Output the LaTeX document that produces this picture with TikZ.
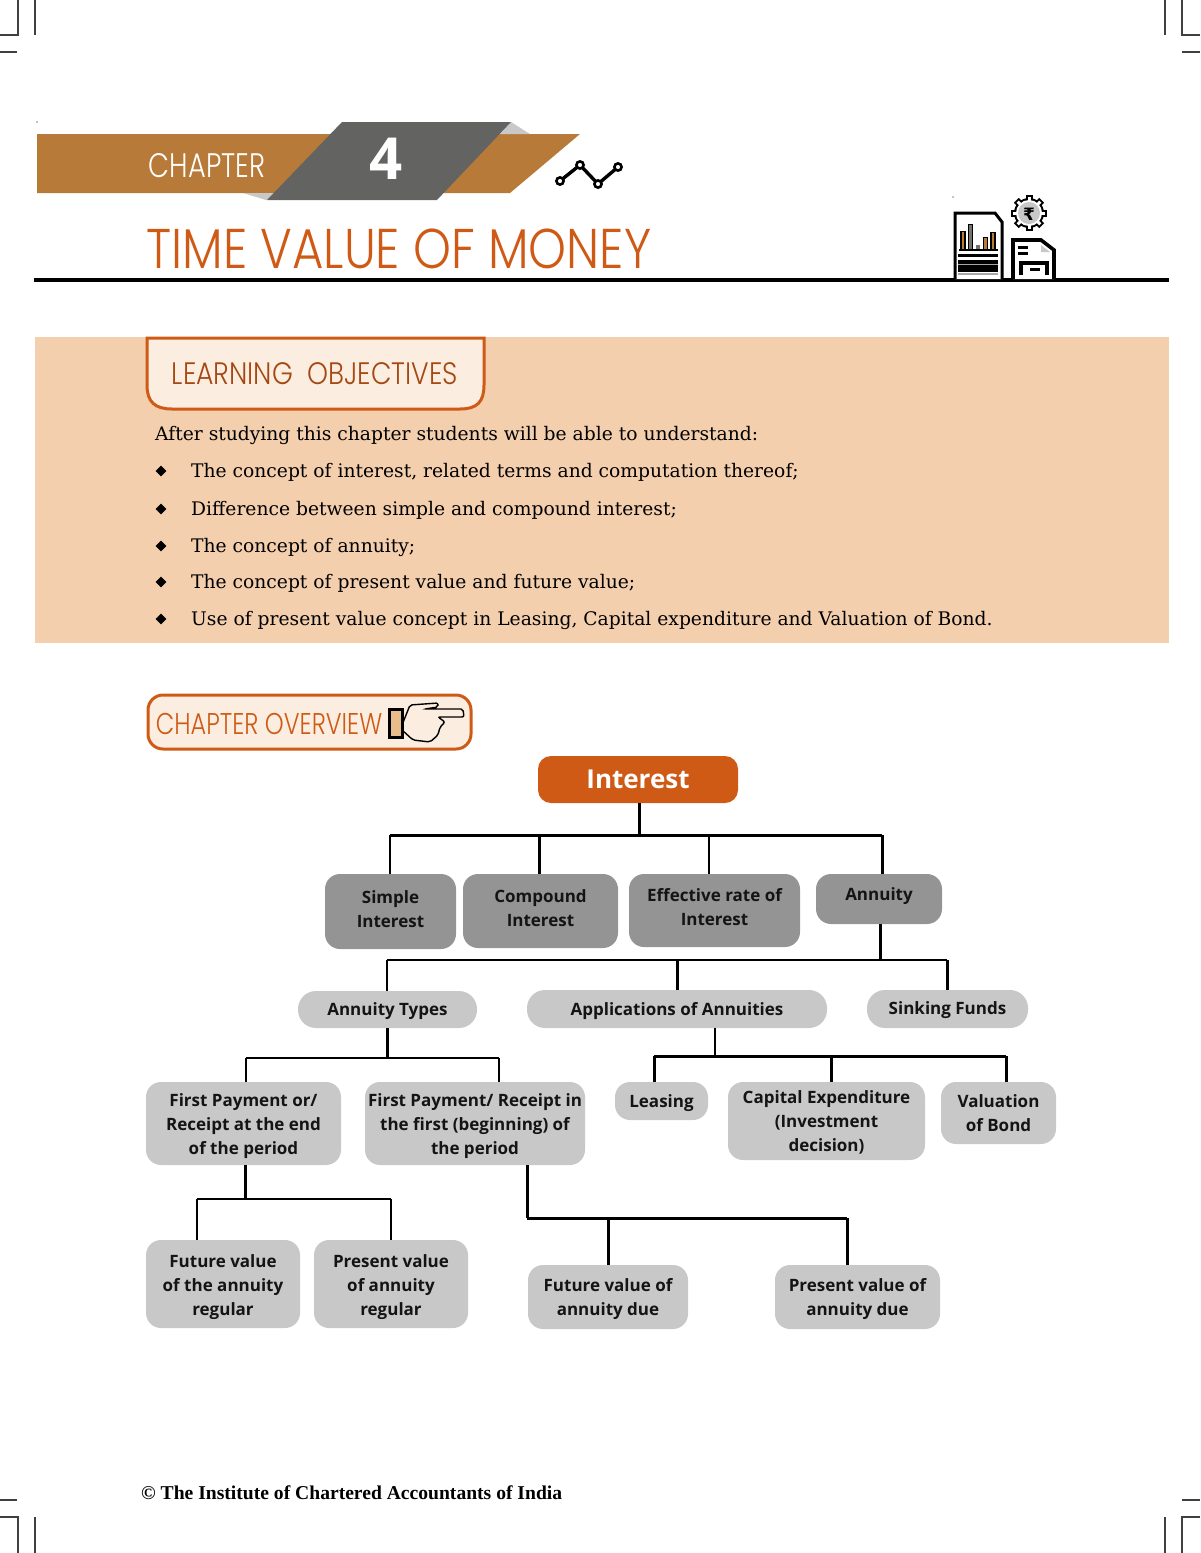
\documentclass[tikz,border=0pt]{standalone}
\usepackage{fontspec}
\usetikzlibrary{shapes.geometric}
\setmainfont{DejaVu Serif}
\newfontfamily\headfont[FakeStretch=0.8]{Poppins Light}
\newfontfamily\titlefont[FakeStretch=0.86]{Poppins Light}
\newfontfamily\boxfont{Open Sans}
\newfontfamily\footfont{Liberation Serif}
\newcommand{\topgap}[1]{\rule{0pt}{#1pt}}
\definecolor{bandbrown}{HTML}{B87A38}
\definecolor{darkgrey}{HTML}{636361}
\definecolor{lightgrey}{HTML}{C8C8C8}
\definecolor{midgrey}{HTML}{949494}
\definecolor{rust}{HTML}{CF5A16}
\definecolor{panel}{HTML}{F3CFAE}
\definecolor{cream}{HTML}{FBEDE0}
\definecolor{cuff}{HTML}{E9BC8C}
\begin{document}
\begin{tikzpicture}[x=1pt,y=-1pt,
    crop/.style = {draw=black!75,line width=1.6pt},
    bus/.style = {draw=black,line width=3pt},
    thinbus/.style = {draw=black,line width=1.8pt},
    topbox/.style = {fill=rust,text=white,rounded corners=13pt,align=center,font=\boxfont\bfseries\fontsize{26}{30}\selectfont},
    midbox/.style = {fill=midgrey,text=black!92,rounded corners=15pt,align=center,font=\boxfont\bfseries\fontsize{17}{24}\selectfont,inner sep=0pt},
    lowbox/.style = {fill=lightgrey,text=black!92,rounded corners=15pt,align=center,font=\boxfont\bfseries\fontsize{17}{24}\selectfont,inner sep=0pt},
    goal/.style = {anchor=base west,inner sep=0pt,font=\fontsize{18.7}{22}\selectfont},
    tick/.style = {diamond,fill=black,inner sep=0pt,minimum size=11pt}]
    \useasboundingbox (0,0) rectangle (1200,1553);

    % crop marks
    \draw[crop] (0,35) -- (18,35) -- (18,0);
    \draw[crop] (35,0) -- (35,35);
    \draw[crop] (0,52) -- (17,52);
    \draw[crop] (1200,35) -- (1182,35) -- (1182,0);
    \draw[crop] (1165,0) -- (1165,35);
    \draw[crop] (1200,52) -- (1182,52);
    \draw[crop] (0,1517) -- (18,1517) -- (18,1553);
    \draw[crop] (35,1517) -- (35,1553);
    \draw[crop] (0,1500) -- (17,1500);
    \draw[crop] (1200,1517) -- (1182,1517) -- (1182,1553);
    \draw[crop] (1165,1517) -- (1165,1553);
    \draw[crop] (1200,1500) -- (1182,1500);
    \fill (37,122) circle (0.7);
    \fill (953,197) circle (0.7);

    % chapter band
    \fill[bandbrown] (37,134) -- (580,134) -- (510,193) -- (37,193) -- cycle;
    \fill[lightgrey] (511,122) -- (530,134) -- (500,134) -- cycle;
    \fill[lightgrey] (243,193) -- (277,193) -- (266,200) -- cycle;
    \fill[darkgrey] (342,122) -- (511,122) -- (437,200) -- (267,200) -- cycle;
    \node[text=white,font=\headfont\fontsize{34}{36}\selectfont,inner sep=0pt] (chapterword) at (207,166) {CHAPTER};
    \node[text=white,font=\boxfont\bfseries\fontsize{58}{64}\selectfont,inner sep=0pt] (chapternum) at (386,159) {4};

    % small graph
    \draw[line width=3.4pt] (560,181) -- (580,165) -- (598,184) -- (618,167);
    \foreach \x/\y in {560/181,580/165,598/184,618/167}
        \draw[line width=2.6pt,fill=white] (\x,\y) circle (3.6);

    \node[text=rust,font=\titlefont\fontsize{56}{60}\selectfont,inner sep=0pt] (title) at (399,249) {TIME VALUE OF MONEY};
    \draw[line width=4pt] (34,280) -- (1169,280);

    % page icon
    \draw[line width=3pt,fill=white] (955,279) -- (955,213) -- (995,213) -- (1002,222) -- (1002,279);
    \foreach \x/\y/\c in {963/231/bandbrown,970.5/224/black!55,985.5/237/bandbrown,993/232/bandbrown}{
        \draw[line width=5.6pt] (\x,\y) -- (\x,250);
        \draw[\c,line width=2.8pt] (\x,\y+1) -- (\x,249);
    }
    \draw[line width=2pt] (959,250) -- (998,250);
    \fill[black!55] (976,245) rectangle (980,249);
    \fill (958,254) rectangle (998,257);
    \fill (958,260) rectangle (998,272);
    \fill[black!35] (958,264) rectangle (998,265.4);
    \fill[black!35] (958,273) rectangle (998,275);

    % floppy icon
    \draw[line width=3.6pt,fill=white] (1013,279) -- (1013,240) -- (1041,240) -- (1054,250) -- (1054,279);
    \fill[lightgrey] (1041,245) -- (1050,252) -- (1041,252) -- cycle;
    \draw[line width=3pt] (1018,247) -- (1028,247);
    \draw[line width=3pt] (1018,253) -- (1028,253);
    \draw[line width=4pt] (1021,275) -- (1021,263) -- (1047,263) -- (1047,275);
    \draw[line width=3pt] (1030,269) -- (1040,269);

    % gear icon
    \foreach \a in {0,45,...,315}
        \draw[line width=7pt] (1029,213) ++(\a:12) -- ++(\a:6);
    \fill (1029,213) circle (15);
    \foreach \a in {0,45,...,315}
        \draw[white,line width=3pt] (1029,213) ++(\a:11) -- ++(\a:5);
    \fill[white] (1029,213) circle (13);
    \fill[lightgrey] (1029,213) circle (11);
    \node[font=\fontspec{DejaVu Sans}\bfseries\fontsize{17}{17}\selectfont,inner sep=0pt] (rupee) at (1029,214) {₹};

    % objectives panel
    \fill[panel] (35,337) rectangle (1169,643);
    \draw[rust,line width=3pt,fill=cream] (147,338) -- (147,385) .. controls (147,402) and (155,409) .. (172,409) -- (460,409) .. controls (477,409) and (484,402) .. (484,385) -- (484,338) -- cycle;
    \node[text=rust!80!black,font=\titlefont\fontsize{31}{34}\selectfont,inner sep=0pt] (objectives) at (315,374) {LEARNING\ \ OBJECTIVES};

    \node[goal] (after) at (155,440) {After studying this chapter students will be able to understand:};
    \foreach \n/\y/\t in {a/477/{The concept of interest, related terms and computation thereof;},
                          b/515/{Difference between simple and compound interest;},
                          c/552/{The concept of annuity;},
                          d/588/{The concept of present value and future value;},
                          e/625/{Use of present value concept in Leasing, Capital expenditure and Valuation of Bond.}}{
        \node[tick] (tick\n) at (161,\y-6) {};
        \node[goal] (goal\n) at (191,\y) {\t};
    }

    % overview tab
    \draw[rust,line width=3pt,fill=cream,rounded corners=15pt] (148,695) rectangle (471,749);
    \node[text=rust,font=\headfont\fontsize{30}{32}\selectfont,inner sep=0pt] (overview) at (269,724) {CHAPTER OVERVIEW};
    \draw[line width=1.4pt,fill=cream,rounded corners=2pt] (402,725) -- (410,705) -- (438,703) -- (438,707) -- (425,709) -- (463,709) -- (464,717) -- (438,717) -- (445,722) -- (440,727) -- (438,735) -- (430,742) -- (413,740) -- (402,730) -- cycle;
    \draw[line width=3pt,fill=cuff] (389,709) rectangle (402,737);

    % the tree
    \node[topbox,minimum width=200,minimum height=47] (interest) at (638,779.5) {Interest};

    \node[midbox,minimum width=131,minimum height=75,text depth=4pt] (simple) at (390.5,911.5) {Simple\\Interest};
    \node[midbox,minimum width=155,minimum height=74,text depth=6pt] (compound) at (540.5,911) {Compound\\Interest};
    \node[midbox,minimum width=171,minimum height=73,text depth=8pt] (effective) at (714.5,910.5) {Effective rate of\\Interest};
    \node[midbox,minimum width=126,minimum height=50,text depth=10pt] (annuity) at (879,899) {Annuity};

    \node[lowbox,minimum width=179,minimum height=37,rounded corners=18pt] (types) at (387.5,1009.5) {\topgap{17}Annuity Types};
    \node[lowbox,minimum width=300,minimum height=38,rounded corners=18pt] (apps) at (677,1009) {\topgap{17}Applications of Annuities};
    \node[lowbox,minimum width=161,minimum height=38,rounded corners=18pt] (sinking) at (947.5,1009) {\topgap{15}Sinking Funds};

    \node[lowbox,minimum width=195,minimum height=83] (first) at (243.5,1123.5) {\topgap{19}First Payment or/\\Receipt at the end\\of the period};
    \node[lowbox,minimum width=220,minimum height=83] (begin) at (475,1123.5) {\topgap{19}First Payment/ Receipt in\\the first (beginning) of\\the period};
    \node[lowbox,minimum width=93,minimum height=38] (leasing) at (661.5,1101) {\topgap{17}Leasing};
    \node[lowbox,minimum width=197,minimum height=78] (capex) at (826.5,1121) {\topgap{15}Capital Expenditure\\(Investment\\decision)};
    \node[lowbox,minimum width=115,minimum height=62] (bond) at (998.5,1113) {Valuation\\of Bond};

    \node[lowbox,minimum width=154,minimum height=88] (fvreg) at (223,1284) {\topgap{20}Future value\\of the annuity\\regular};
    \node[lowbox,minimum width=154,minimum height=88] (pvreg) at (391,1284) {\topgap{20}Present value\\of annuity\\regular};
    \node[lowbox,minimum width=160,minimum height=64] (fvdue) at (608,1297) {\topgap{17}Future value of\\annuity due};
    \node[lowbox,minimum width=165,minimum height=64] (pvdue) at (857.5,1297) {\topgap{17}Present value of\\annuity due};

    % connectors
    \coordinate (jtop) at (639,835);
    \draw[bus] (interest.south -| jtop) -- (jtop);
    \foreach \p/\n/\s in {390/simple/thinbus,539/compound/bus,709/effective/thinbus,882/annuity/bus}{
        \coordinate (j\n) at (\p,835);
        \draw[\s] (j\n) -- (j\n |- \n.north);
    }
    \draw[bus] (jsimple) -- (jannuity);

    \coordinate (jmid) at (880,960);
    \draw[bus] (annuity.south -| jmid) -- (jmid);
    \foreach \p/\n/\s in {387/types/thinbus,677/apps/bus,947/sinking/bus}{
        \coordinate (j\n) at (\p,960);
        \draw[\s] (j\n) -- (j\n |- \n.north);
    }
    \draw[thinbus] (jtypes) -- (jsinking);

    \coordinate (jleft) at (387,1058);
    \draw[bus] (types.south -| jleft) -- (jleft);
    \foreach \p/\n in {246/first,499/begin}{
        \coordinate (j\n) at (\p,1058);
        \draw[thinbus] (j\n) -- (j\n |- \n.north);
    }
    \draw[thinbus] (jfirst) -- (jbegin);

    \coordinate (japps) at (715,1056);
    \draw[thinbus] (apps.south -| japps) -- (japps);
    \foreach \p/\n in {654/leasing,831/capex,1006/bond}{
        \coordinate (j\n) at (\p,1056);
        \draw[bus] (j\n) -- (j\n |- \n.north);
    }
    \draw[bus] (jleasing) -- (jbond);

    \coordinate (jreg) at (245,1199);
    \draw[bus] (first.south -| jreg) -- (jreg);
    \foreach \p/\n in {197/fvreg,391/pvreg}{
        \coordinate (j\n) at (\p,1199);
        \draw[thinbus] (j\n) -- (j\n |- \n.north);
    }
    \draw[thinbus] (jfvreg) -- (jpvreg);

    \coordinate (jdue) at (527,1218);
    \draw[bus] (begin.south -| jdue) -- (jdue);
    \foreach \p/\n in {608/fvdue,847/pvdue}{
        \coordinate (j\n) at (\p,1218);
        \draw[bus] (j\n) -- (j\n |- \n.north);
    }
    \draw[bus] (jdue) -- (jpvdue);

    \node[anchor=base west,inner sep=0pt,font=\footfont\bfseries\fontsize{19.6}{22}\selectfont] (footer) at (141,1499) {© The Institute of Chartered Accountants of India};
\end{tikzpicture}
\end{document}
